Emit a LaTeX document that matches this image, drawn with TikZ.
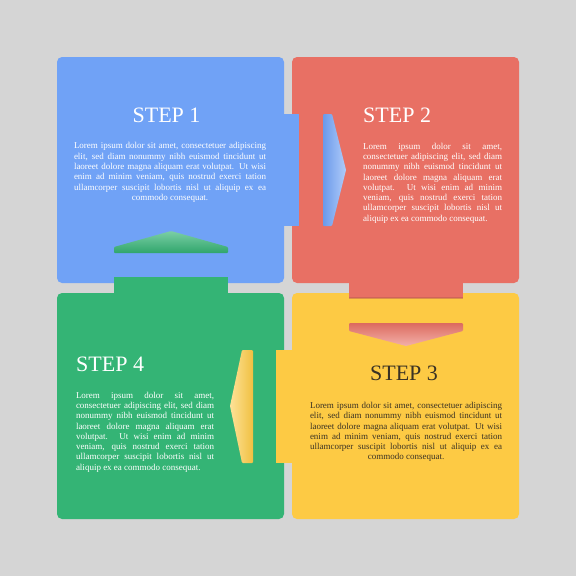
\documentclass[tikz,border=0pt]{standalone}
\usepackage{fontspec}
\setmainfont{Liberation Serif}
\usepackage{tikz}
\usetikzlibrary{positioning, calc}
\definecolor{stepbg}{RGB}{213, 213, 213}
\definecolor{stepblue}{RGB}{112, 162, 246}
\definecolor{stepred}{RGB}{232, 112, 100}
\definecolor{stepgreen}{RGB}{52, 180, 117}
\definecolor{stepyellow}{RGB}{253, 202, 68}
\definecolor{stepdark}{RGB}{58, 50, 36}

\begin{document}
\begin{tikzpicture}[x=1pt, y=-1pt,
  stepbox/.style={rounded corners=5pt, inner sep=0pt, minimum width=227pt, minimum height=226pt},
  steptitle/.style={inner sep=0pt, font=\fontsize{22}{26}\selectfont, text=white},
  steptext/.style={inner sep=0pt, align=justify, font=\fontsize{9}{10.3}\selectfont, text=white}]
  % background
  \fill[stepbg] (0,0) rectangle (576,576);
  % boxes
  \node[stepbox, fill=stepblue] (box1) at (170.5,170) {};
  \node[stepbox, fill=stepred] (box2) at (405.5,170) {};
  \node[stepbox, fill=stepyellow] (box3) at (405.5,406) {};
  \node[stepbox, fill=stepgreen] (box4) at (170.5,406) {};
  % tabs
  \fill[stepblue] (280,114) rectangle (299,226);
  \fill[stepred] (349,280) rectangle (463,298);
  \fill[stepred!80!black, opacity=0.5] (349,297) rectangle (463,298.5);
  \fill[stepyellow] (276,350) rectangle (296,463);
  \fill[stepgreen] (114,277) rectangle (228,296);
  % arrows
  \shade[left color=stepblue!95!black, right color=stepblue!55!white, rounded corners=1pt]
    (323,114) -- (332,114) -- (346,170) -- (332,226) -- (323,226) -- cycle;
  \shade[top color=stepred!95!black, bottom color=stepred!55!white, rounded corners=1pt]
    (349,323) -- (463,323) -- (463,331) -- (406,346) -- (349,331) -- cycle;
  \shade[right color=stepyellow!95!black, left color=stepyellow!55!white, rounded corners=1pt]
    (253,350) -- (253,463) -- (242,463) -- (230,406) -- (242,350) -- cycle;
  \shade[bottom color=stepgreen!92!black, top color=stepgreen!65!white, rounded corners=1pt]
    (114,253) -- (114,247) -- (171,231) -- (228,247) -- (228,253) -- cycle;
  % step 1
  \node[steptitle] (title1) at (166.5,115) {STEP 1};
  \node[steptext, text width=192pt] (text1) at (170,172.5) {%
    {\parfillskip=0pt Lorem ipsum dolor sit amet, consectetuer adipiscing\linebreak
    elit, sed diam nonummy nibh euismod tincidunt ut\linebreak
    laoreet dolore magna aliquam erat volutpat. Ut wisi\linebreak
    enim ad minim veniam, quis nostrud exerci tation\linebreak
    ullamcorper suscipit lobortis nisl ut aliquip ex ea\par}
    \makebox[\linewidth]{commodo consequat.}};
  % step 2
  \node[steptitle, anchor=west] (title2) at (363,115) {STEP 2};
  \node[steptext, text width=139pt] (text2) at (432.5,183) {%
    Lorem ipsum dolor sit amet,\linebreak
    consectetuer adipiscing elit, sed diam\linebreak
    nonummy nibh euismod tincidunt ut\linebreak
    laoreet dolore magna aliquam erat\linebreak
    volutpat. Ut wisi enim ad minim\linebreak
    veniam, quis nostrud exerci tation\linebreak
    ullamcorper suscipit lobortis nisl ut\linebreak
    aliquip ex ea commodo consequat.};
  % step 3
  \node[steptitle, text=stepdark] (title3) at (404,373.5) {STEP 3};
  \node[steptext, text=stepdark, text width=192pt] (text3) at (406,432) {%
    {\parfillskip=0pt Lorem ipsum dolor sit amet, consectetuer adipiscing\linebreak
    elit, sed diam nonummy nibh euismod tincidunt ut\linebreak
    laoreet dolore magna aliquam erat volutpat. Ut wisi\linebreak
    enim ad minim veniam, quis nostrud exerci tation\linebreak
    ullamcorper suscipit lobortis nisl ut aliquip ex ea\par}
    \makebox[\linewidth]{commodo consequat.}};
  % step 4
  \node[steptitle, anchor=west] (title4) at (76,364) {STEP 4};
  \node[steptext, text width=138pt] (text4) at (145,432) {%
    Lorem ipsum dolor sit amet,\linebreak
    consectetuer adipiscing elit, sed diam\linebreak
    nonummy nibh euismod tincidunt ut\linebreak
    laoreet dolore magna aliquam erat\linebreak
    volutpat. Ut wisi enim ad minim\linebreak
    veniam, quis nostrud exerci tation\linebreak
    ullamcorper suscipit lobortis nisl ut\linebreak
    aliquip ex ea commodo consequat.};
\end{tikzpicture}
\end{document}
